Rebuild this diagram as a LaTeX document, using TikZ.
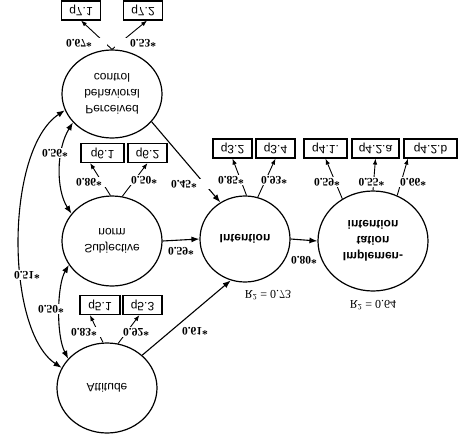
\documentclass[tikz,border=0pt]{standalone}
\usepackage{fontspec}
\setmainfont{Liberation Serif}
\setsansfont{Liberation Sans}
\usetikzlibrary{arrows.meta,shapes.geometric}

\begin{document}
\begin{tikzpicture}[x=1pt,y=1pt,yscale=-1,>=Latex,
  every node/.style={yscale=-1,font=\sffamily\fontsize{12}{16}\selectfont},
  lv/.style={ellipse,draw,line width=1.2pt,inner sep=0pt,align=center},
  item/.style={draw,line width=1.1pt,minimum width=39,minimum height=19,inner sep=1pt},
  coef/.style={fill=white,inner sep=1pt,font=\rmfamily\bfseries\fontsize{11.5}{13}\selectfont},
  cl/.style={coef,text width=40,align=left},
  cr/.style={coef,text width=40,align=right},
  eff/.style={->,line width=1.1pt,>={Latex[length=8pt,width=6pt]}},
  load/.style={->,line width=.9pt,>={Latex[length=6pt,width=4.5pt]}},
  cov/.style={<->,line width=1.1pt,>={Latex[length=8pt,width=6pt]}}]
\path[use as bounding box] (0,0) rectangle (474,439);

% latent variables
\node[lv,minimum width=100,minimum height=88] (pbc) at (112,94) {Perceived\\behavioral\\control};
\node[lv,minimum width=100,minimum height=90] (sn) at (112,241) {Subjective\\norm};
\node[lv,minimum width=100,minimum height=90] (att) at (107,388) {Attitude};
\node[lv,minimum width=90,minimum height=86,font=\sffamily\bfseries\fontsize{12}{16}\selectfont] (int) at (245,239) {Intention};
\node[lv,minimum width=110,minimum height=100,font=\sffamily\bfseries\fontsize{12}{16}\selectfont] (impl) at (373,241) {Implemen-\\tation\\intention};

% observed items
\node[item] (q71) at (81,10.5) {q7.1};
\node[item] (q72) at (143,10.5) {q7.2};
\node[item,minimum width=43] (q61) at (102.5,153) {q6.1};
\node[item] (q62) at (147.5,153) {q6.2};
\node[item,minimum width=40] (q51) at (100,305) {q5.1};
\node[item] (q53) at (142.5,305) {q5.3};
\node[item] (q32) at (232.5,148.5) {q3.2};
\node[item] (q34) at (275.5,148.5) {q3.4};
\node[item,minimum width=43] (q41) at (325.5,148.5) {q4.1.};
\node[item,minimum width=47] (q42a) at (375.5,148.5) {q4.2.a};
\node[item,minimum width=53] (q42b) at (430.5,148.5) {q4.2.b};

% loadings
\draw[load] (pbc.south) -- (q71.north);
\draw[load] (pbc.south) -- (q72.68);
\draw[load] (sn.268) -- (q61.141);
\draw[load] (sn.283) -- (q62.north);
\draw[load] (att.265) -- (q51.135);
\draw[load] (att.284) -- (q53.107);
\draw[load] (int.272) -- (q32.north);
\draw[load] (int.287) -- (q34.north);
\draw[load] (impl.234) -- (q41.north);
\draw[load] (impl.south) -- (q42a.north);
\draw[load] (impl.298) -- (q42b.156);
\node[cl] (l71) at (86,43) {0.67*};
\node[cr] (l72) at (136,43) {0.53*};
\node[cl] (l61) at (96,182) {0.86*};
\node[cr] (l62) at (137,180) {0.50*};
\node[cl] (l51) at (91,332) {0.83*};
\node[cr] (l53) at (129,332) {0.92*};
\node[cl] (l32) at (238,180) {0.85*};
\node[cr] (l34) at (267,180) {0.93*};
\node[cl] (l41) at (334,182) {0.59*};
\node[coef] (l42a) at (371.5,182) {0.55*};
\node[cr] (l42b) at (406,182) {0.66*};

% paths
\draw[eff] (pbc.35) -- (int.236);
\draw[eff] (sn.east) -- (int.west);
\draw[eff] (att.317) -- (int.109);
\draw[eff] (int.east) -- (impl.west);
\node[cl] (bpbc) at (191,184) {0.45*};
\node[coef] (bsn) at (181,251) {0.59*};
\node[coef] (batt) at (195,331) {0.61*};
\node[coef] (bint) at (304,260) {0.80*};

% correlations
\draw[cov] (pbc.144) .. controls (56,150) and (56,190) .. (sn.214);
\draw[cov] (sn.151) .. controls (57,285) and (56,335) .. (att.217);
\draw[cov] (pbc.161) .. controls (5,150) and (5,330) .. (att.204);
\node[coef] (c12) at (55,153) {0.56*};
\node[coef] (c23) at (51,309) {0.50*};
\node[coef] (c13) at (27,275) {0.51*};

% explained variance
\node[font=\rmfamily\fontsize{12}{14}\selectfont] (r2int) at (268,295) {R\textsuperscript{2} = 0.73};
\node[font=\rmfamily\fontsize{12}{14}\selectfont] (r2impl) at (373,305) {R\textsuperscript{2} = 0.64};
\end{tikzpicture}
\end{document}
